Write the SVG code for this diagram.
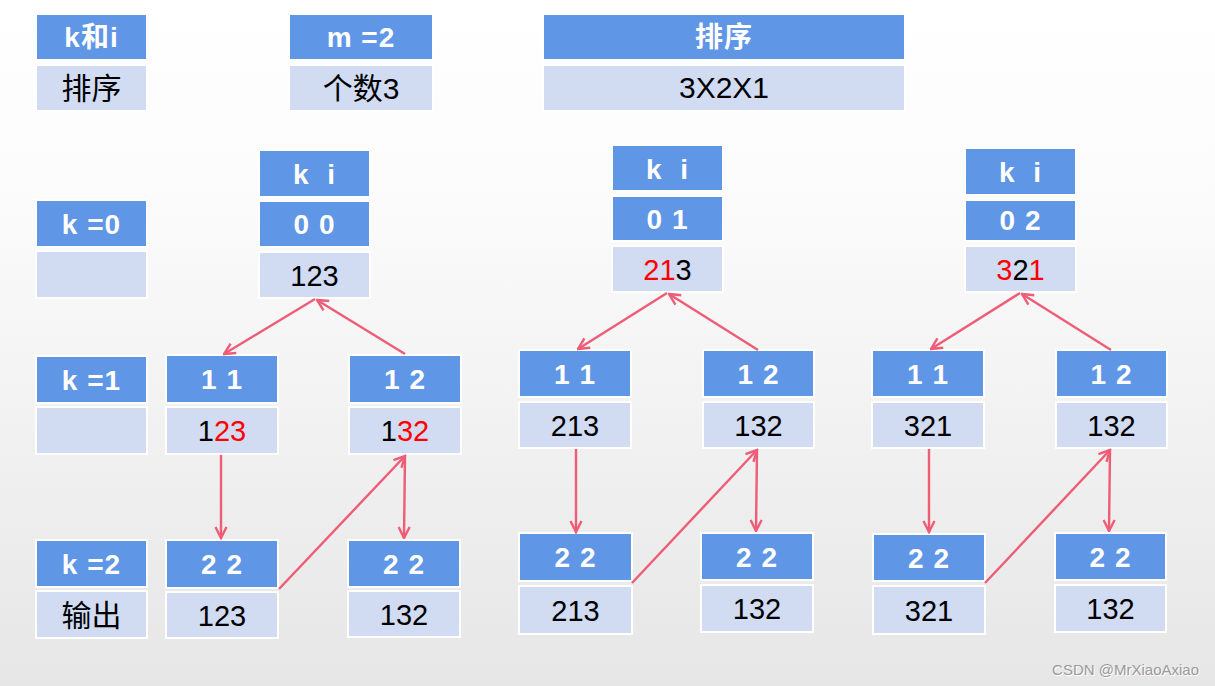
<svg xmlns="http://www.w3.org/2000/svg" width="1215" height="686" viewBox="0 0 1215 686">
<defs>
<linearGradient id="bg" x1="0" y1="0" x2="0" y2="1">
<stop offset="0" stop-color="#ffffff"/>
<stop offset="0.3" stop-color="#fbfbfb"/>
<stop offset="1" stop-color="#e6e6e6"/>
</linearGradient>
<marker id="ah" viewBox="0 0 14 14" refX="12.5" refY="7" markerWidth="14" markerHeight="14" markerUnits="userSpaceOnUse" orient="auto">
<path d="M1.5,1.5 L12.5,7 L1.5,12.5" fill="none" stroke="#EE5C75" stroke-width="2.4"/>
</marker>
<style>
.h{fill:#5F96E6;stroke:#ffffff;stroke-width:2}
.b{fill:#D1DCF3;stroke:#ffffff;stroke-width:2}
.ht{font-family:"Liberation Sans","Noto Sans CJK SC",sans-serif;font-weight:bold;font-size:28px;letter-spacing:1px;fill:#ffffff;text-anchor:middle;white-space:pre}
.bt{font-family:"Liberation Sans","Noto Sans CJK SC",sans-serif;font-size:29px;fill:#000000;text-anchor:middle}
.cj{font-size:30px}
.r{fill:#ff0000}
.c{fill:none;stroke:#EE5C75;stroke-width:2.4;marker-end:url(#ah)}
.wm{font-family:"Liberation Sans",sans-serif;font-size:15px;fill:#9a9a9a;text-anchor:end}
</style>
</defs>
<rect x="0" y="0" width="1215" height="686" fill="url(#bg)"/>

<g id="legend-ki">
<rect class="h" x="36" y="14" width="111" height="46"/>
<text class="ht" x="91.5" y="47">k和i</text>
<rect class="b" x="36" y="65" width="111" height="46"/>
<text class="bt cj" x="91.5" y="99">排序</text>
</g>
<g id="legend-m">
<rect class="h" x="289" y="14" width="144" height="46"/>
<text class="ht" x="361" y="47">m =2</text>
<rect class="b" x="289" y="65" width="144" height="46"/>
<text class="bt cj" x="361" y="99">个数3</text>
</g>
<g id="legend-sort">
<rect class="h" x="543" y="14" width="362" height="46"/>
<text class="ht" x="724" y="47">排序</text>
<rect class="b" x="543" y="65" width="362" height="46"/>
<text class="bt" x="724" y="98" style="font-size:30px">3X2X1</text>
</g>

<g id="level-k0">
<rect class="h" x="36" y="200" width="111" height="47"/>
<text class="ht" x="91.5" y="234">k =0</text>
<rect class="b" x="36" y="251" width="111" height="47"/>
</g>
<g id="level-k1">
<rect class="h" x="36" y="356" width="111" height="47"/>
<text class="ht" x="91.5" y="390">k =1</text>
<rect class="b" x="36" y="407" width="111" height="47"/>
</g>
<g id="level-k2">
<rect class="h" x="36" y="540" width="111" height="47"/>
<text class="ht" x="91.5" y="574">k =2</text>
<rect class="b" x="36" y="591" width="111" height="47"/>
<text class="bt cj" x="91.5" y="626">输出</text>
</g>

<!-- Tree 1 -->
<g id="t1-root">
<rect class="h" x="259" y="150" width="111" height="47"/>
<text class="ht" x="314.5" y="184">k  i</text>
<rect class="h" x="259" y="201" width="111" height="46"/>
<text class="ht" x="314.5" y="234">0 0</text>
<rect class="b" x="259" y="252" width="111" height="46"/>
<text class="bt" x="314.5" y="286">123</text>
</g>
<g id="t1-11">
<rect class="h" x="166" y="355" width="112" height="48"/>
<text class="ht" x="222" y="389">1 1</text>
<rect class="b" x="166" y="407" width="112" height="47"/>
<text class="bt" x="222" y="441">1<tspan class="r">23</tspan></text>
</g>
<g id="t1-12">
<rect class="h" x="349" y="355" width="112" height="48"/>
<text class="ht" x="405" y="389">1 2</text>
<rect class="b" x="349" y="407" width="112" height="47"/>
<text class="bt" x="405" y="441">1<tspan class="r">32</tspan></text>
</g>
<g id="t1-22a">
<rect class="h" x="166" y="540" width="112" height="48"/>
<text class="ht" x="222" y="574">2 2</text>
<rect class="b" x="166" y="592" width="112" height="46"/>
<text class="bt" x="222" y="626">123</text>
</g>
<g id="t1-22b">
<rect class="h" x="348" y="540" width="112" height="47"/>
<text class="ht" x="404" y="574">2 2</text>
<rect class="b" x="348" y="591" width="112" height="46"/>
<text class="bt" x="404" y="625">132</text>
</g>

<!-- Tree 2 -->
<g id="t2-root">
<rect class="h" x="612" y="145" width="111" height="46"/>
<text class="ht" x="667.5" y="179">k  i</text>
<rect class="h" x="612" y="196" width="111" height="45"/>
<text class="ht" x="667.5" y="229">0 1</text>
<rect class="b" x="612" y="246" width="111" height="46"/>
<text class="bt" x="667.5" y="280"><tspan class="r">21</tspan>3</text>
</g>
<g id="t2-11">
<rect class="h" x="519" y="350" width="112" height="47"/>
<text class="ht" x="575" y="384">1 1</text>
<rect class="b" x="519" y="402" width="112" height="46"/>
<text class="bt" x="575" y="436">213</text>
</g>
<g id="t2-12">
<rect class="h" x="703" y="350" width="111" height="47"/>
<text class="ht" x="758.5" y="384">1 2</text>
<rect class="b" x="703" y="402" width="111" height="46"/>
<text class="bt" x="758.5" y="436">132</text>
</g>
<g id="t2-22a">
<rect class="h" x="519" y="533" width="113" height="48"/>
<text class="ht" x="575.5" y="567">2 2</text>
<rect class="b" x="519" y="586" width="113" height="48"/>
<text class="bt" x="575.5" y="621">213</text>
</g>
<g id="t2-22b">
<rect class="h" x="701" y="533" width="112" height="47"/>
<text class="ht" x="757" y="567">2 2</text>
<rect class="b" x="701" y="585" width="112" height="47"/>
<text class="bt" x="757" y="619">132</text>
</g>

<!-- Tree 3 -->
<g id="t3-root">
<rect class="h" x="965" y="148" width="111" height="47"/>
<text class="ht" x="1020.5" y="182">k  i</text>
<rect class="h" x="965" y="200" width="111" height="41"/>
<text class="ht" x="1020.5" y="230">0 2</text>
<rect class="b" x="965" y="246" width="111" height="46"/>
<text class="bt" x="1020.5" y="280"><tspan class="r">3</tspan>2<tspan class="r">1</tspan></text>
</g>
<g id="t3-11">
<rect class="h" x="872" y="350" width="112" height="47"/>
<text class="ht" x="928" y="384">1 1</text>
<rect class="b" x="872" y="402" width="112" height="46"/>
<text class="bt" x="928" y="436">321</text>
</g>
<g id="t3-12">
<rect class="h" x="1056" y="350" width="111" height="47"/>
<text class="ht" x="1111.5" y="384">1 2</text>
<rect class="b" x="1056" y="402" width="111" height="46"/>
<text class="bt" x="1111.5" y="436">132</text>
</g>
<g id="t3-22a">
<rect class="h" x="873" y="534" width="112" height="47"/>
<text class="ht" x="929" y="568">2 2</text>
<rect class="b" x="873" y="586" width="112" height="48"/>
<text class="bt" x="929" y="621">321</text>
</g>
<g id="t3-22b">
<rect class="h" x="1055" y="533" width="111" height="47"/>
<text class="ht" x="1110.5" y="567">2 2</text>
<rect class="b" x="1055" y="585" width="111" height="47"/>
<text class="bt" x="1110.5" y="619">132</text>
</g>

<g id="connectors">
<line class="c" x1="315" y1="299" x2="224" y2="354"/>
<line class="c" x1="405" y1="354" x2="317" y2="300"/>
<line class="c" x1="221" y1="455" x2="221" y2="538"/>
<line class="c" x1="279" y1="589" x2="405" y2="456"/>
<line class="c" x1="405" y1="456" x2="404" y2="538"/>

<line class="c" x1="667" y1="293" x2="578" y2="349"/>
<line class="c" x1="758" y1="350" x2="669" y2="294"/>
<line class="c" x1="576" y1="449" x2="576" y2="532"/>
<line class="c" x1="632" y1="583" x2="757" y2="450"/>
<line class="c" x1="757" y1="450" x2="756" y2="531"/>

<line class="c" x1="1020" y1="293" x2="931" y2="349"/>
<line class="c" x1="1111" y1="350" x2="1022" y2="294"/>
<line class="c" x1="929" y1="449" x2="929" y2="532"/>
<line class="c" x1="985" y1="583" x2="1110" y2="450"/>
<line class="c" x1="1110" y1="450" x2="1109" y2="531"/>
</g>

<text class="wm" x="1199" y="675" style="fill:#ffffff" dx="1" dy="1">CSDN @MrXiaoAxiao</text>
<text class="wm" x="1199" y="675">CSDN @MrXiaoAxiao</text>
</svg>
